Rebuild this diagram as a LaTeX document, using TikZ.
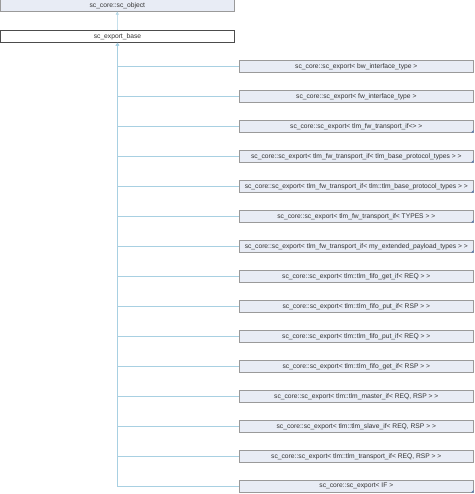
\documentclass[tikz,border=0pt]{standalone}
\usepackage{fontspec}
\setmainfont{Liberation Sans}
\usetikzlibrary{arrows.meta}
\definecolor{boxfill}{HTML}{E8ECF5}
\definecolor{boxline}{HTML}{9A9A9A}
\definecolor{edgecol}{HTML}{A8D0E2}
\definecolor{markcol}{HTML}{5A7AB0}
\begin{document}
\begin{tikzpicture}[x=1pt,y=-1pt,
  cls/.style={draw=boxline, fill=boxfill, line width=0.6pt, minimum height=12pt, inner sep=0pt,
     font=\fontsize{6.7}{8}\selectfont, text=black!80, anchor=north west},
  basecls/.style={draw=black!70, fill=white, line width=0.9pt, minimum height=12pt, inner sep=0pt,
     font=\fontsize{6.7}{8}\selectfont, text=black!80, anchor=north west},
  inh/.style={draw=edgecol, line width=0.6pt, {Triangle[open,length=3pt,width=3pt]}-}]
\useasboundingbox (0,0) rectangle (474,494);
\node[cls, minimum width=234pt] (obj) at (0,-1) {sc\_core::sc\_object};
\node[basecls, minimum width=234pt] (base) at (0,30) {sc\_export\_base};
\foreach \i/\t in {
 1/{sc\_core::sc\_export< bw\_interface\_type >},
 2/{sc\_core::sc\_export< fw\_interface\_type >},
 3/{sc\_core::sc\_export< tlm\_fw\_transport\_if<> >},
 4/{sc\_core::sc\_export< tlm\_fw\_transport\_if< tlm\_base\_protocol\_types > >},
 5/{sc\_core::sc\_export< tlm\_fw\_transport\_if< tlm::tlm\_base\_protocol\_types > >},
 6/{sc\_core::sc\_export< tlm\_fw\_transport\_if< TYPES > >},
 7/{sc\_core::sc\_export< tlm\_fw\_transport\_if< my\_extended\_payload\_types > >},
 8/{sc\_core::sc\_export< tlm::tlm\_fifo\_get\_if< REQ > >},
 9/{sc\_core::sc\_export< tlm::tlm\_fifo\_put\_if< RSP > >},
 10/{sc\_core::sc\_export< tlm::tlm\_fifo\_put\_if< REQ > >},
 11/{sc\_core::sc\_export< tlm::tlm\_fifo\_get\_if< RSP > >},
 12/{sc\_core::sc\_export< tlm::tlm\_master\_if< REQ, RSP > >},
 13/{sc\_core::sc\_export< tlm::tlm\_slave\_if< REQ, RSP > >},
 14/{sc\_core::sc\_export< tlm::tlm\_transport\_if< REQ, RSP > >},
 15/{sc\_core::sc\_export< IF >}} {
  \node[cls, minimum width=234pt] (c\i) at (239,{60+30*(\i-1)}) {\t};
}
\foreach \i in {3,4,5,6,7,15} {
  \fill[markcol] (c\i.south east) -- ++(-2.5,0) -- ++(2.5,-2.5) -- cycle;
}
\draw[inh] (obj.south) -- (base.north);
\foreach \i in {1,...,15} {
  \draw[inh] (base.south) |- (c\i.west);
}
\end{tikzpicture}
\end{document}
